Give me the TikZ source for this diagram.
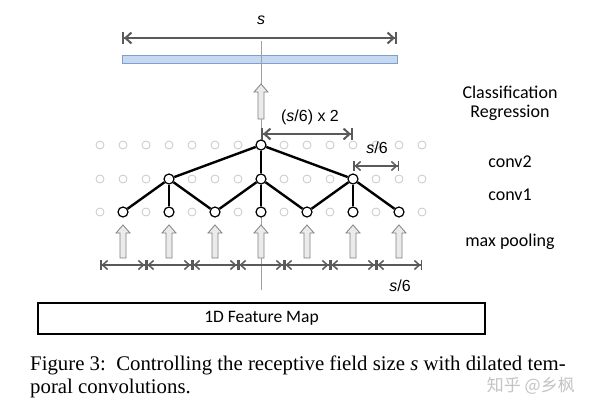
\documentclass[tikz,border=0pt]{standalone}
\usepackage{fontspec}
\setmainfont{Liberation Serif}
\newfontfamily\calfont{Carlito}
\newfontfamily\arialfont{Liberation Sans}
\newfontfamily\cjkfont{Noto Sans CJK SC}
\usetikzlibrary{arrows.meta}
\definecolor{dotgray}{HTML}{C8C8C8}
\definecolor{dimgray}{HTML}{5A5A5A}
\definecolor{vlinegray}{HTML}{A0A0A0}
\definecolor{barfill}{HTML}{C6D9F1}
\definecolor{barline}{HTML}{7F9FCF}
\definecolor{arrfill}{HTML}{EBEBEB}
\definecolor{arrline}{HTML}{808080}
\definecolor{wmgray}{HTML}{C4C4C4}
\tikzset{
  griddot/.style={circle, draw=dotgray, line width=0.8pt, fill=white, minimum size=8pt, inner sep=0pt},
  treenode/.style={circle, draw=black, line width=1.2pt, fill=white, minimum size=10pt, inner sep=0pt},
  treeedge/.style={line width=2.4pt, black},
  dimthin/.style={draw=dimgray, line width=1.5pt,
    {Bar[width=10pt,line width=1.5pt,sep=0pt]Straight Barb[length=5pt,width=9pt,line width=1.5pt]}-{Straight Barb[length=5pt,width=9pt,line width=1.5pt,sep=0pt]Bar[width=10pt,line width=1.5pt]}},
  dimthick/.style={draw=dimgray, line width=2.4pt,
    {Bar[width=12pt,line width=2pt,sep=0pt]Straight Barb[length=6pt,width=11pt,line width=2pt]}-{Straight Barb[length=6pt,width=11pt,line width=2pt,sep=0pt]Bar[width=12pt,line width=2pt]}},
  blockarrow/.style={fill=arrfill, draw=arrline, line width=0.8pt, line join=miter},
  dimlabel/.style={font=\arialfont\fontsize{16}{18}\selectfont, inner sep=0pt},
  sidelabel/.style={font=\calfont\fontsize{18}{21}\selectfont, inner sep=0pt},
  vline/.style={draw=vlinegray, line width=0.8pt}
}
\newcommand\upblock[3]{\draw[blockarrow] (#1-3,#3) -- (#1-3,#2+8) -- (#1-7,#2+8) -- (#1,#2) -- (#1+7,#2+8) -- (#1+3,#2+8) -- (#1+3,#3) -- cycle;}
\begin{document}
\begin{tikzpicture}[x=1pt,y=-1pt]
\useasboundingbox (0,0) rectangle (590,410);
\fill[white] (0,0) rectangle (590,410);
% top span s
\node[dimlabel] (slab) at (261,20) {\itshape s};
\coordinate (sL) at (122,38);
\coordinate (sR) at (397,38);
\draw[dimthick] (sL) -- (sR);
% blue bar
\node[draw=barline, fill=barfill, line width=0.8pt, minimum width=275pt, minimum height=8pt, inner sep=0pt] (bar) at (259.5,59) {};
% vertical center line
\coordinate (vtop) at (261,41);
\coordinate (vbot) at (261,290);
\draw[vline] (vtop) -- (vbot);
% grid dots
\foreach \r/\y in {1/145,2/179,3/212}{
  \foreach \c in {0,...,14}{
    \node[griddot] (g\r-\c) at ({100+23*\c},\y) {};
  }
}
% tree nodes
\node[treenode] (top) at (261,145) {};
\node[treenode] (m1) at (169,179) {};
\node[treenode] (m2) at (261,179) {};
\node[treenode] (m3) at (353,179) {};
\foreach \i/\x in {1/123,2/169,3/215,4/261,5/307,6/353,7/399}{
  \node[treenode] (b\i) at (\x,212) {};
}
\draw[treeedge] (top) -- (m1);
\draw[treeedge] (top) -- (m2);
\draw[treeedge] (top) -- (m3);
\draw[treeedge] (m1) -- (b1);
\draw[treeedge] (m1) -- (b2);
\draw[treeedge] (m1) -- (b3);
\draw[treeedge] (m2) -- (b3);
\draw[treeedge] (m2) -- (b4);
\draw[treeedge] (m2) -- (b5);
\draw[treeedge] (m3) -- (b5);
\draw[treeedge] (m3) -- (b6);
\draw[treeedge] (m3) -- (b7);
% block arrows
\upblock{261}{84}{119}
\foreach \x in {123,169,215,261,307,353,399}{
  \upblock{\x}{225}{258}
}
% (s/6) x 2
\node[dimlabel] (twolab) at (310,117) {(\textit{s}/6) x 2};
\coordinate (tA) at (261,134);
\coordinate (tB) at (353,134);
\draw[dimthick] (tA) -- (tB);
% s/6 upper
\node[dimlabel] (s6a) at (377,148) {\textit{s}/6};
\coordinate (uA) at (353,166);
\coordinate (uB) at (399,166);
\draw[dimthin] (uA) -- (uB);
% bottom spans
\foreach \i in {0,...,7}{
  \coordinate (d\i) at ({100+46*\i},265);
}
\foreach \i [evaluate=\i as \j using int(\i+1)] in {0,...,6}{
  \draw[dimthin] (d\i) -- (d\j);
}
\node[dimlabel] (s6b) at (400,286) {\textit{s}/6};
% side labels
\node[sidelabel] (cls) at (510,92) {Classification};
\node[sidelabel] (reg) at (510,113) {Regression};
\node[sidelabel] (c2) at (510,162) {conv2};
\node[sidelabel] (c1) at (510,195) {conv1};
\node[sidelabel] (mp) at (510,242) {max pooling};
% feature map box
\node[draw=black, line width=2pt, minimum width=447pt, minimum height=31pt, inner sep=0pt,
  font=\calfont\fontsize{17.5}{20}\selectfont] (fmap) at (261.5,318) {1D Feature Map};
% caption
\node[anchor=base west, inner sep=0pt, font=\fontsize{20.8}{24}\selectfont] (cap1) at (30,370)
  {Figure 3:\ \ Controlling the receptive field size \textit{s} with dilated tem-};
\node[anchor=base west, inner sep=0pt, font=\fontsize{20.8}{24}\selectfont] (cap2) at (30,393)
  {poral convolutions.};
\node[anchor=base east, inner sep=0pt, text=wmgray, font=\cjkfont\fontsize{17}{20}\selectfont] (wm) at (575,391) {知乎 @乡枫};
\end{tikzpicture}
\end{document}
